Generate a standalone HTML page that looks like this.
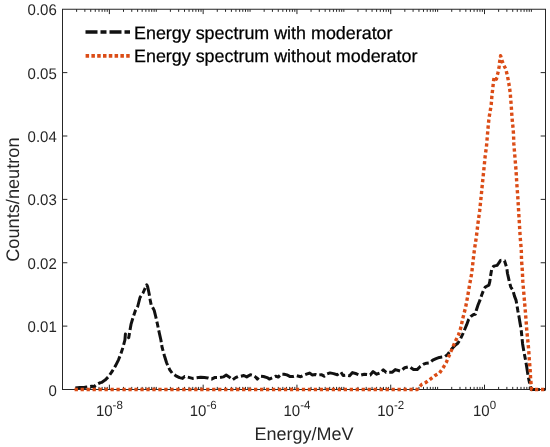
<!DOCTYPE html><html><head><meta charset="utf-8"><style>html,body{margin:0;padding:0;background:#fff;}svg{display:block;}</style></head><body>
<svg width="550" height="447" viewBox="0 0 550 447" font-family="'Liberation Sans', Arial, Helvetica, sans-serif" text-rendering="geometricPrecision">
<rect width="550" height="447" fill="#fff"/>
<path d="M76.61 389.5V386.90M76.61 9.25V11.85M84.87 389.5V386.90M84.87 9.25V11.85M90.73 389.5V386.90M90.73 9.25V11.85M95.27 389.5V386.90M95.27 9.25V11.85M98.99 389.5V386.90M98.99 9.25V11.85M102.13 389.5V386.90M102.13 9.25V11.85M104.84 389.5V386.90M104.84 9.25V11.85M107.24 389.5V386.90M107.24 9.25V11.85M109.39 389.5V384.67M109.39 9.25V14.08M123.50 389.5V386.90M123.50 9.25V11.85M131.76 389.5V386.90M131.76 9.25V11.85M137.62 389.5V386.90M137.62 9.25V11.85M142.16 389.5V386.90M142.16 9.25V11.85M145.87 389.5V386.90M145.87 9.25V11.85M149.01 389.5V386.90M149.01 9.25V11.85M151.73 389.5V386.90M151.73 9.25V11.85M154.13 389.5V386.90M154.13 9.25V11.85M156.28 389.5V386.90M156.28 9.25V11.85M170.39 389.5V386.90M170.39 9.25V11.85M178.65 389.5V386.90M178.65 9.25V11.85M184.51 389.5V386.90M184.51 9.25V11.85M189.05 389.5V386.90M189.05 9.25V11.85M192.76 389.5V386.90M192.76 9.25V11.85M195.90 389.5V386.90M195.90 9.25V11.85M198.62 389.5V386.90M198.62 9.25V11.85M201.02 389.5V386.90M201.02 9.25V11.85M203.17 389.5V384.67M203.17 9.25V14.08M217.28 389.5V386.90M217.28 9.25V11.85M225.54 389.5V386.90M225.54 9.25V11.85M231.40 389.5V386.90M231.40 9.25V11.85M235.94 389.5V386.90M235.94 9.25V11.85M239.65 389.5V386.90M239.65 9.25V11.85M242.79 389.5V386.90M242.79 9.25V11.85M245.51 389.5V386.90M245.51 9.25V11.85M247.91 389.5V386.90M247.91 9.25V11.85M250.05 389.5V386.90M250.05 9.25V11.85M264.17 389.5V386.90M264.17 9.25V11.85M272.43 389.5V386.90M272.43 9.25V11.85M278.28 389.5V386.90M278.28 9.25V11.85M282.83 389.5V386.90M282.83 9.25V11.85M286.54 389.5V386.90M286.54 9.25V11.85M289.68 389.5V386.90M289.68 9.25V11.85M292.40 389.5V386.90M292.40 9.25V11.85M294.80 389.5V386.90M294.80 9.25V11.85M296.94 389.5V384.67M296.94 9.25V14.08M311.06 389.5V386.90M311.06 9.25V11.85M319.31 389.5V386.90M319.31 9.25V11.85M325.17 389.5V386.90M325.17 9.25V11.85M329.72 389.5V386.90M329.72 9.25V11.85M333.43 389.5V386.90M333.43 9.25V11.85M336.57 389.5V386.90M336.57 9.25V11.85M339.29 389.5V386.90M339.29 9.25V11.85M341.69 389.5V386.90M341.69 9.25V11.85M343.83 389.5V386.90M343.83 9.25V11.85M357.95 389.5V386.90M357.95 9.25V11.85M366.20 389.5V386.90M366.20 9.25V11.85M372.06 389.5V386.90M372.06 9.25V11.85M376.60 389.5V386.90M376.60 9.25V11.85M380.32 389.5V386.90M380.32 9.25V11.85M383.46 389.5V386.90M383.46 9.25V11.85M386.18 389.5V386.90M386.18 9.25V11.85M388.57 389.5V386.90M388.57 9.25V11.85M390.72 389.5V384.67M390.72 9.25V14.08M404.83 389.5V386.90M404.83 9.25V11.85M413.09 389.5V386.90M413.09 9.25V11.85M418.95 389.5V386.90M418.95 9.25V11.85M423.49 389.5V386.90M423.49 9.25V11.85M427.21 389.5V386.90M427.21 9.25V11.85M430.34 389.5V386.90M430.34 9.25V11.85M433.06 389.5V386.90M433.06 9.25V11.85M435.46 389.5V386.90M435.46 9.25V11.85M437.61 389.5V386.90M437.61 9.25V11.85M451.72 389.5V386.90M451.72 9.25V11.85M459.98 389.5V386.90M459.98 9.25V11.85M465.84 389.5V386.90M465.84 9.25V11.85M470.38 389.5V386.90M470.38 9.25V11.85M474.09 389.5V386.90M474.09 9.25V11.85M477.23 389.5V386.90M477.23 9.25V11.85M479.95 389.5V386.90M479.95 9.25V11.85M482.35 389.5V386.90M482.35 9.25V11.85M484.50 389.5V384.67M484.50 9.25V14.08M498.61 389.5V386.90M498.61 9.25V11.85M506.87 389.5V386.90M506.87 9.25V11.85M512.73 389.5V386.90M512.73 9.25V11.85M517.27 389.5V386.90M517.27 9.25V11.85M520.98 389.5V386.90M520.98 9.25V11.85M524.12 389.5V386.90M524.12 9.25V11.85M526.84 389.5V386.90M526.84 9.25V11.85M529.24 389.5V386.90M529.24 9.25V11.85M531.39 389.5V386.90M531.39 9.25V11.85M62.5 326.12H67.33M545.5 326.12H540.67M62.5 262.75H67.33M545.5 262.75H540.67M62.5 199.38H67.33M545.5 199.38H540.67M62.5 136.00H67.33M545.5 136.00H540.67M62.5 72.62H67.33M545.5 72.62H540.67" stroke="#262626" stroke-width="1" fill="none"/>
<rect x="62.5" y="9.25" width="483.0" height="380.25" fill="none" stroke="#262626" stroke-width="1"/>
<polyline points="75.3,388.0 79.8,387.6 84.7,387.3 89.1,386.7 91.8,386.2 94.0,386.6 96.7,384.4 100.0,382.8 101.6,382.4 105.1,380.1 108.6,376.6 112.1,371.4 115.6,365.6 118.5,359.8 120.8,354.0 123.1,347.0 124.9,340.0 125.4,334.0 128.7,337.7 130.2,329.0 131.0,324.4 133.2,317.0 135.5,310.2 137.7,306.5 140.0,297.5 143.0,293.0 145.0,288.5 146.7,284.8 147.6,286.5 149.0,293.0 150.2,300.0 151.2,305.0 152.7,307.5 154.2,310.4 155.7,316.5 157.3,323.5 159.2,332.5 160.9,340.0 162.1,347.4 164.5,356.0 166.5,362.5 168.0,366.2 169.8,369.8 172.3,373.3 175.9,375.8 179.5,377.6 182.5,378.4 184.6,376.5 186.8,376.9 189.7,377.6 192.6,378.4 195.5,378.0 198.5,377.6 200.7,377.3 204.4,377.6 208.0,378.0 211.6,379.1 214.5,377.6 219.6,377.6 223.3,376.9 226.2,375.1 229.1,376.9 232.7,379.8 235.6,377.6 238.0,376.5 240.9,376.2 243.8,375.5 246.7,376.9 250.4,374.7 253.3,375.5 255.5,376.9 257.3,379.1 259.8,376.2 263.5,376.5 267.1,377.6 269.3,379.1 272.9,377.6 275.8,376.2 278.2,377.1 281.1,374.2 284.0,374.2 286.9,374.9 289.8,376.4 293.5,376.4 296.4,375.6 300.7,376.7 303.6,375.3 306.5,374.2 309.5,373.1 312.4,374.9 315.3,374.5 316.9,375.1 321.3,374.7 324.2,376.2 327.1,374.0 330.0,372.9 333.6,373.6 337.3,374.7 340.9,372.2 343.1,375.5 346.0,375.1 349.6,375.8 352.5,372.6 356.4,373.8 360.0,375.3 364.4,374.2 370.2,374.9 373.1,371.6 376.7,374.2 380.4,372.7 383.3,369.8 386.2,372.4 389.1,372.2 392.4,372.2 395.3,369.6 400.4,371.1 404.7,367.8 409.1,366.7 413.5,369.6 417.1,369.6 420.0,366.7 423.6,364.2 426.5,363.2 429.4,362.8 432.7,360.2 436.1,358.7 439.4,357.4 442.1,357.0 444.8,356.6 447.5,354.6 450.2,351.0 452.8,347.8 455.5,345.0 457.8,343.3 460.2,339.5 462.8,333.9 464.7,329.5 466.7,324.7 468.4,319.9 471.1,316.2 473.6,314.5 475.4,314.2 476.3,310.2 478.1,304.8 479.9,300.4 481.7,295.0 483.1,291.4 485.3,287.0 488.9,285.2 489.8,281.6 490.7,275.0 491.7,269.4 493.7,266.1 497.1,265.4 499.1,262.7 500.4,260.4 502.4,260.2 504.5,260.7 505.8,264.8 506.8,268.1 507.5,273.5 508.5,277.8 509.5,282.5 510.8,287.0 513.0,290.5 514.4,295.9 516.1,300.4 517.0,305.7 517.9,311.1 518.8,315.6 519.7,321.0 520.6,326.3 521.3,331.0 522.6,343.9 524.0,352.2 525.4,359.2 526.8,367.5 528.1,375.8 529.5,382.8 530.5,387.0 531.0,389.5 545.5,389.5" fill="none" stroke="#111" stroke-width="3.0" stroke-dasharray="12 3 6 3" stroke-linejoin="round"/>
<polyline points="74.6,389.5 417.3,389.5 421.6,384.5 426.0,382.4 430.4,379.1 434.7,375.8 439.5,373.0 443.1,367.8 446.2,362.7 449.2,355.5 452.3,348.3 455.4,341.1 458.5,334.9 460.5,328.8 463.0,317.6 465.7,306.9 467.7,296.2 469.7,284.1 471.7,273.4 473.1,260.7 474.4,249.9 476.3,237.3 477.9,223.9 479.7,210.5 481.1,197.0 482.4,183.6 483.8,170.2 485.1,156.8 486.5,146.1 487.6,133.0 488.3,125.0 489.0,118.3 490.1,111.6 491.2,104.9 491.9,95.9 492.8,88.1 493.5,81.4 494.2,76.9 496.4,79.1 498.0,72.4 499.1,66.8 499.7,61.2 500.6,55.7 501.8,60.1 503.5,64.6 505.8,69.1 507.4,75.8 508.5,81.4 509.6,88.1 510.3,93.7 510.7,99.3 511.2,104.9 511.6,111.6 512.0,117.2 512.5,122.8 513.2,129.5 513.6,136.2 513.8,143.4 514.9,156.8 516.0,170.2 516.8,183.6 517.8,197.0 518.6,210.5 519.4,223.9 520.2,237.3 521.3,249.9 521.5,259.7 522.3,270.4 522.8,281.2 523.7,291.9 524.6,302.6 525.5,313.4 526.4,325.0 526.8,330.9 527.8,340.4 528.7,349.9 529.3,359.4 530.1,368.9 530.6,378.3 531.2,385.0 531.6,389.5 545.5,389.5" fill="none" stroke="#DB4C16" stroke-width="3.4" stroke-dasharray="3.3 2.68" stroke-linejoin="round"/>
<text transform="translate(56.8,395.50) scale(1,1.03)" font-size="15" fill="#262626" text-anchor="end">0</text>
<text transform="translate(56.8,332.12) scale(1,1.03)" font-size="15" fill="#262626" text-anchor="end">0.01</text>
<text transform="translate(56.8,268.75) scale(1,1.03)" font-size="15" fill="#262626" text-anchor="end">0.02</text>
<text transform="translate(56.8,205.38) scale(1,1.03)" font-size="15" fill="#262626" text-anchor="end">0.03</text>
<text transform="translate(56.8,142.00) scale(1,1.03)" font-size="15" fill="#262626" text-anchor="end">0.04</text>
<text transform="translate(56.8,78.62) scale(1,1.03)" font-size="15" fill="#262626" text-anchor="end">0.05</text>
<text transform="translate(56.8,15.25) scale(1,1.03)" font-size="15" fill="#262626" text-anchor="end">0.06</text>
<text transform="translate(109.39,415.8) scale(1,1.03)" font-size="15" fill="#262626" text-anchor="middle">10<tspan font-size="11.5" dy="-6.9">-8</tspan></text>
<text transform="translate(203.17,415.8) scale(1,1.03)" font-size="15" fill="#262626" text-anchor="middle">10<tspan font-size="11.5" dy="-6.9">-6</tspan></text>
<text transform="translate(296.94,415.8) scale(1,1.03)" font-size="15" fill="#262626" text-anchor="middle">10<tspan font-size="11.5" dy="-6.9">-4</tspan></text>
<text transform="translate(390.72,415.8) scale(1,1.03)" font-size="15" fill="#262626" text-anchor="middle">10<tspan font-size="11.5" dy="-6.9">-2</tspan></text>
<text transform="translate(484.50,415.8) scale(1,1.03)" font-size="15" fill="#262626" text-anchor="middle">10<tspan font-size="11.5" dy="-6.9">0</tspan></text>
<text x="304" y="439.6" font-size="18" fill="#262626" text-anchor="middle">Energy/MeV</text>
<text transform="translate(19,199.6) rotate(-90)" font-size="18.2" fill="#262626" text-anchor="middle">Counts/neutron</text>
<path d="M85.5 32H130" stroke="#111" stroke-width="3.4" stroke-dasharray="12 3 6 3"/>
<path d="M85.6 55.9H131" stroke="#DB4C16" stroke-width="3.6" stroke-dasharray="3.5 2.3"/>
<text x="134" y="38.6" font-size="17.9" fill="#000" stroke="#000" stroke-width="0.25">Energy spectrum with moderator</text>
<text x="134" y="62.2" font-size="17.9" fill="#000" stroke="#000" stroke-width="0.25">Energy spectrum without moderator</text>
</svg></body></html>
